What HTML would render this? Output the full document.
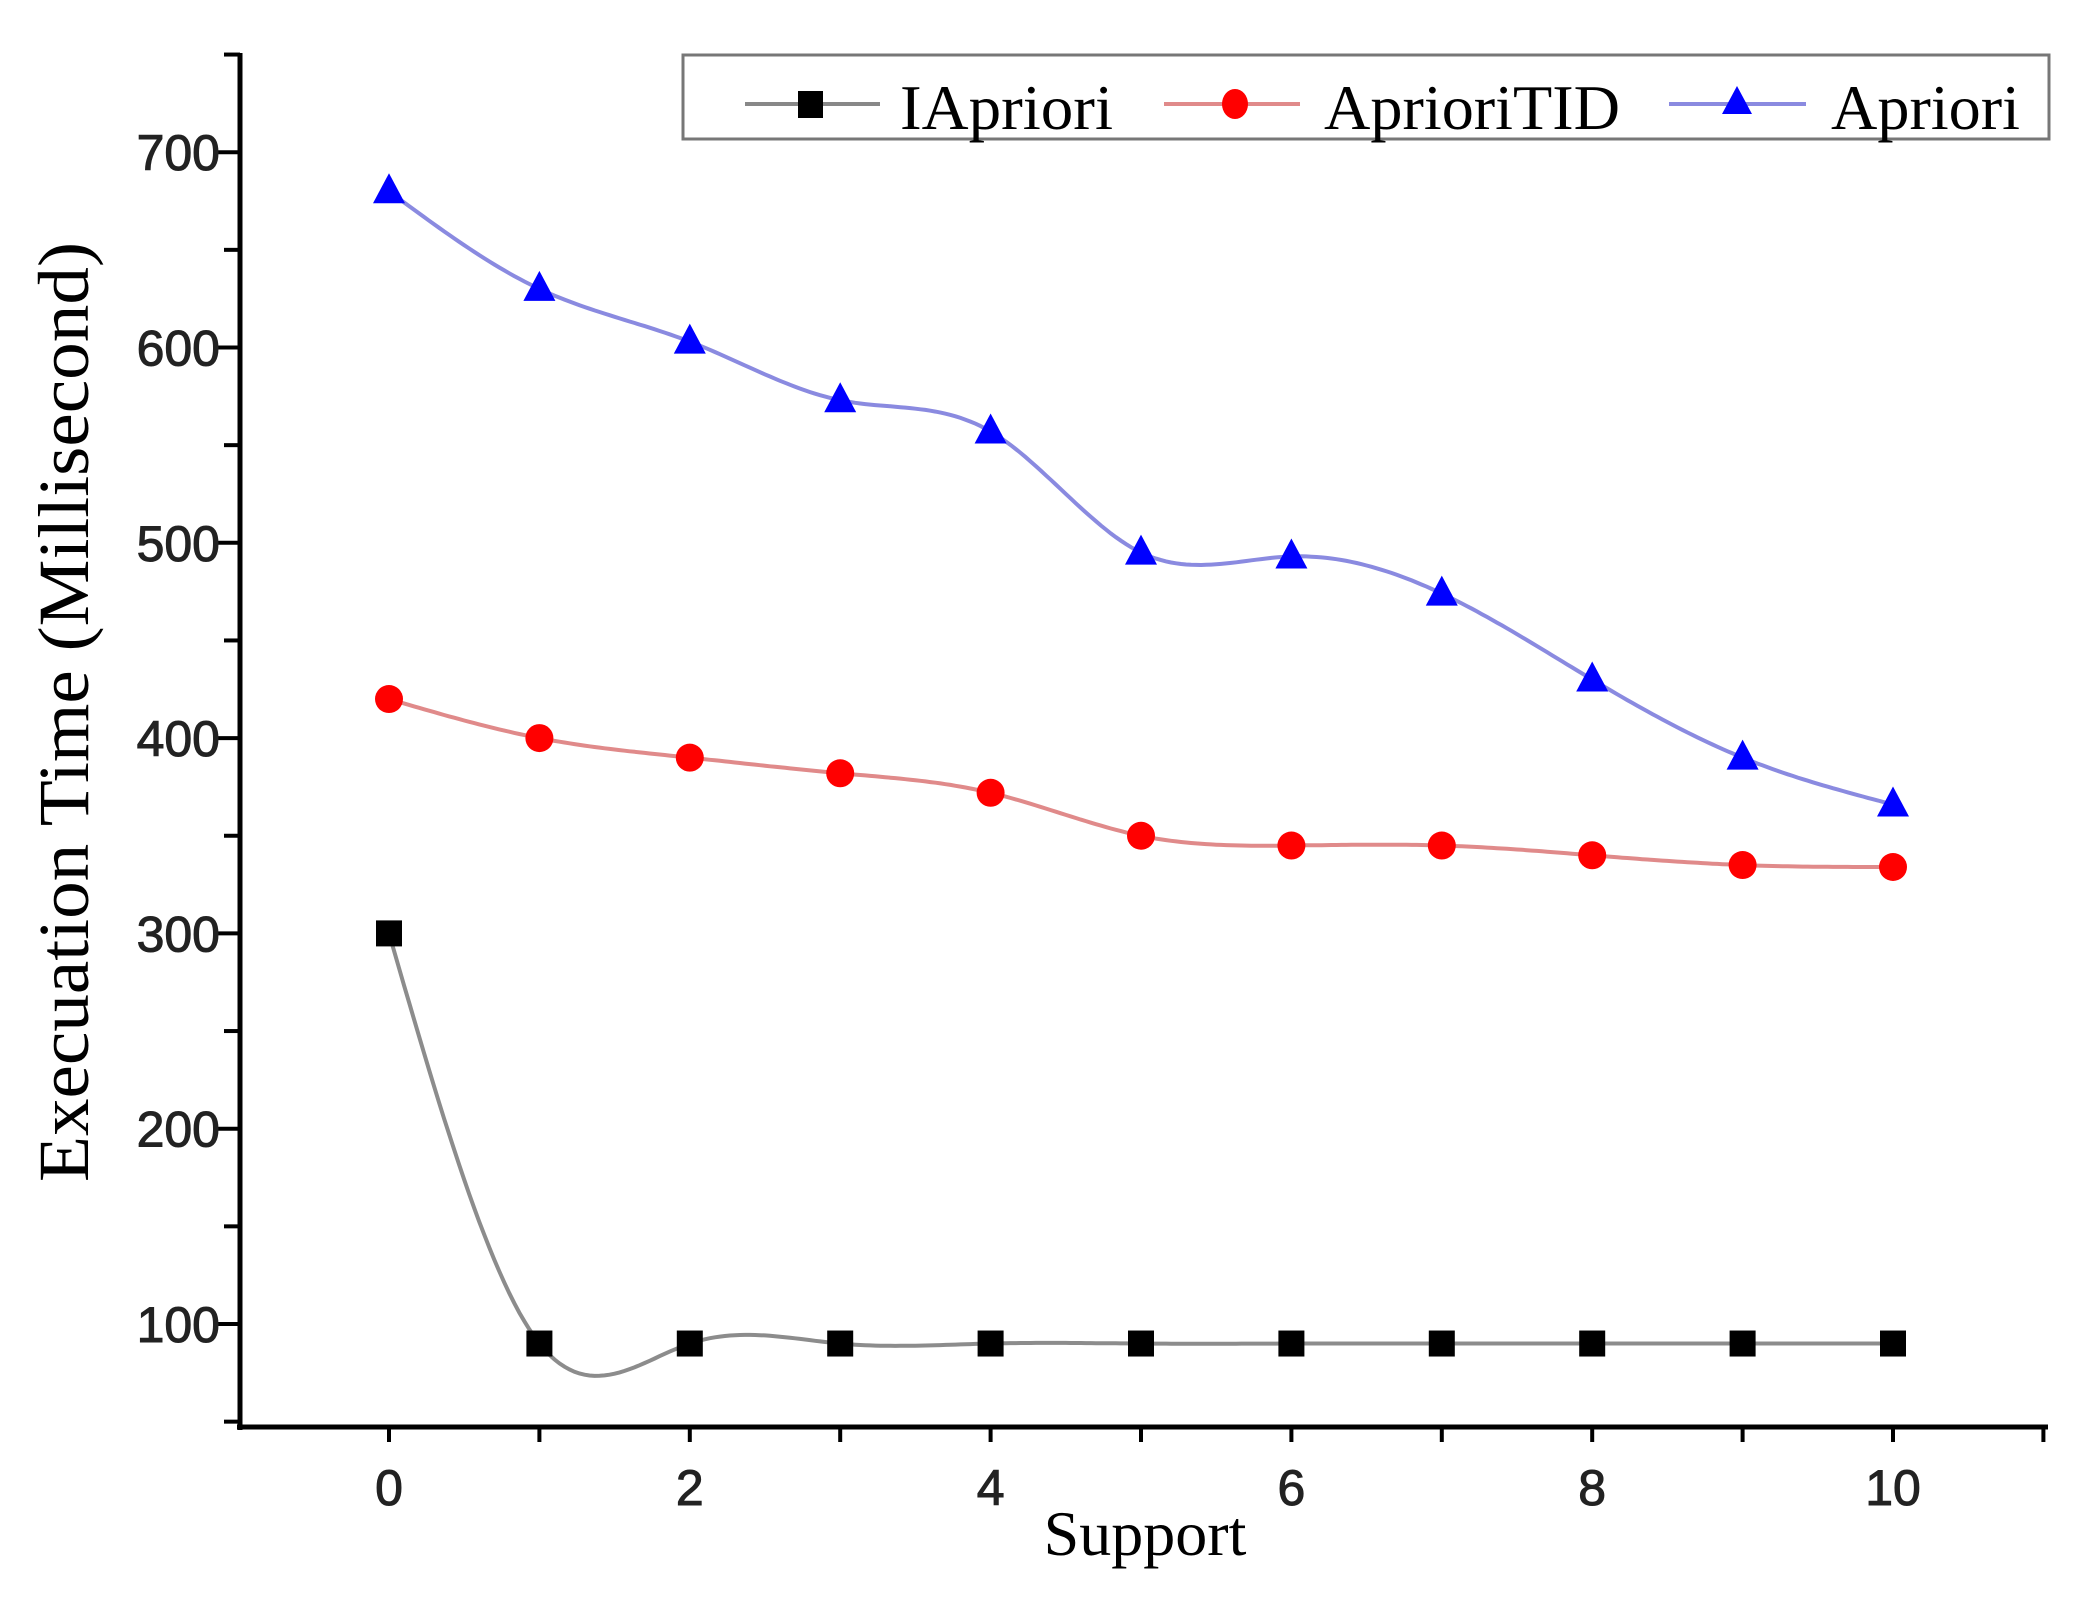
<!DOCTYPE html>
<html><head><meta charset="utf-8"><style>html,body{margin:0;padding:0;background:#fff}</style></head>
<body>
<svg id="s" width="2092" height="1605" viewBox="0 0 2092 1605" xmlns="http://www.w3.org/2000/svg">
<rect width="2092" height="1605" fill="#fff"/>
<g id="axes" stroke="#000" stroke-width="5" fill="none">
<line x1="240" y1="53" x2="240" y2="1430"/>
<line x1="237" y1="1427" x2="2048" y2="1427"/>
</g>
<g id="ticks" stroke="#000" stroke-width="4"></g>
<g font-family="Liberation Sans, sans-serif" font-size="50" fill="#222" stroke="#222" stroke-width="1" id="labels"></g>
<text x="1145" y="1555" font-family="Liberation Serif, serif" font-size="64" text-anchor="middle">Support</text>
<text transform="translate(88,712) rotate(-90)" font-family="Liberation Serif, serif" font-size="72" text-anchor="middle" textLength="940" lengthAdjust="spacingAndGlyphs">Execuation Time (Millisecond)</text>
<g id="series"></g>
<g id="legend">
<rect x="683" y="55" width="1366" height="84" fill="#fff" stroke="#777" stroke-width="3"/>
<line x1="745" y1="104" x2="880" y2="104" stroke="#888" stroke-width="4"/>
<rect x="798" y="91" width="25" height="27" fill="#000"/>
<text x="900" y="129" font-family="Liberation Serif, serif" font-size="64" textLength="213" lengthAdjust="spacingAndGlyphs">IApriori</text>
<line x1="1164" y1="104" x2="1300" y2="104" stroke="#e08a8a" stroke-width="4"/>
<ellipse cx="1235" cy="104" rx="13" ry="15" fill="#f00"/>
<text x="1324" y="129" font-family="Liberation Serif, serif" font-size="64" textLength="296" lengthAdjust="spacingAndGlyphs">AprioriTID</text>
<line x1="1669" y1="104" x2="1806" y2="104" stroke="#8a8ae0" stroke-width="4"/>
<polygon points="1737,86 1752,114 1722,114" fill="#00f"/>
<text x="1831" y="129" font-family="Liberation Serif, serif" font-size="64" textLength="189" lengthAdjust="spacingAndGlyphs">Apriori</text>
</g>
</svg>
<script>
var NS="http://www.w3.org/2000/svg";
function X(v){return 389+v*150.4;}
function Y(v){return 1324-(v-100)*1.953;}
function el(tag,attrs,parent,txt){var e=document.createElementNS(NS,tag);for(var k in attrs)e.setAttribute(k,attrs[k]);if(txt!==undefined)e.textContent=txt;parent.appendChild(e);return e;}
var T=document.getElementById('ticks'),L=document.getElementById('labels'),S=document.getElementById('series');
for(var v=50;v<=750;v+=50){var y=Y(v);var major=(v%100==0);el('line',{x1:major?214:224,y1:y,x2:240,y2:y},T);
 if(major)el('text',{x:220,y:y+18,'text-anchor':'end'},L,String(v));}
for(var i=-1;i<=11;i++){var x=X(i);if(x<240||x>2048)continue;el('line',{x1:x,y1:1427,x2:x,y2:1442},T);
 if(i%2==0&&i>=0&&i<=10)el('text',{x:x,y:1505,'text-anchor':'middle'},L,String(i));}
function spline(ys){var n=ys.length,i;
 var a=ys.slice(),al=[],l=[1],mu=[0],z=[0],c=new Array(n).fill(0),b=[],d=[];
 for(i=1;i<n-1;i++)al[i]=3*(a[i+1]-a[i])-3*(a[i]-a[i-1]);
 for(i=1;i<n-1;i++){l[i]=4-mu[i-1];mu[i]=1/l[i];z[i]=(al[i]-z[i-1])/l[i];}
 c[n-1]=0;
 for(var j=n-2;j>=0;j--){c[j]=z[j]-mu[j]*c[j+1];b[j]=(a[j+1]-a[j])-(c[j+1]+2*c[j])/3;d[j]=(c[j+1]-c[j])/3;}
 var p="";for(j=0;j<n-1;j++){for(var k=0;k<=30;k++){var t=k/30;var val=a[j]+b[j]*t+c[j]*t*t+d[j]*t*t*t;p+=(p?"L":"M")+X(j+t).toFixed(1)+","+Y(val).toFixed(1);}}
 return p;}
var data=[
 {ys:[300,90,90,90,90,90,90,90,90,90,90],line:"#8c8c8c",m:"sq"},
 {ys:[420,400,390,382,372,350,345,345,340,335,334],line:"#e08a8a",m:"ci"},
 {ys:[680,630,603,573,557,495,493,474,430,390,366],line:"#8a8ae0",m:"tr"}];
data.forEach(function(s){el('path',{d:spline(s.ys),fill:'none',stroke:s.line,'stroke-width':4},S);
 s.ys.forEach(function(v,i){var x=X(i),y=Y(v);
  if(s.m=="sq")el('rect',{x:x-13,y:y-13,width:26,height:26,fill:'#000'},S);
  else if(s.m=="ci")el('ellipse',{cx:x,cy:y,rx:14,ry:14,fill:'#f00'},S);
  else el('polygon',{points:(x)+","+(y-18)+" "+(x+16)+","+(y+12)+" "+(x-16)+","+(y+12),fill:'#00f'},S);});});
</script>
</body></html>
